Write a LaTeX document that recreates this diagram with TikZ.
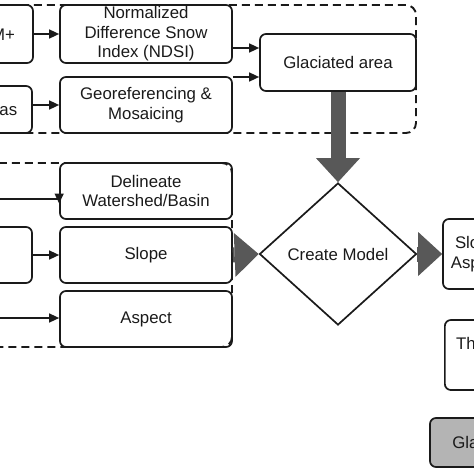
\documentclass[tikz,border=0pt]{standalone}
\usepackage{fontspec}
\setmainfont{Liberation Sans}
\usetikzlibrary{arrows.meta,shapes.geometric}
\definecolor{ink}{HTML}{1A1A1A}
\definecolor{arrgray}{HTML}{585858}
\definecolor{legfill}{HTML}{B4B4B4}
\begin{document}
\begin{tikzpicture}[x=1pt,y=-1pt,
  font=\fontsize{16.8}{19.5}\selectfont, text=ink,
  box/.style={draw=ink, line width=1.7pt, rounded corners=6pt, minimum width=172pt, minimum height=56pt, inner sep=1pt, align=center},
  arr/.style={draw=ink, line width=1.5pt, -{Triangle[width=9pt,length=10pt]}},
  bigarr/.style={draw=arrgray, line width=15pt, -{Triangle[width=44pt,length=24pt,line width=0pt]}},
  frame/.style={draw=ink, line width=1.9pt, dash pattern=on 8pt off 5pt, rounded corners=10pt}]
\useasboundingbox (0,0) rectangle (474,474);
\clip (0,0) rectangle (474,474);
% group frames
\draw[frame] (-30,5) rectangle (416,133);
\draw[frame] (-30,163) rectangle (232,347);
% nodes
\node[box, minimum width=146pt, minimum height=58pt] (src1) at (-40,34) {Landsat ETM+};
\node[box, minimum width=123pt, minimum height=47pt] (src2) at (-29.5,109.5) {Glacier atlas};
\node[box, minimum height=58pt] (ndsi) at (146,34) {Normalized\\Difference Snow\\Index (NDSI)};
\node[box] (geo) at (146,105) {Georeferencing \&\\Mosaicing};
\node[box, minimum width=156pt, minimum height=57pt] (glac) at (338,62.5) {Glaciated area};
\node[draw=ink, line width=1.7pt, diamond, minimum width=157pt, minimum height=142pt, inner sep=0pt] (dia) at (338,254) {Create Model};
\node[box] (del) at (146,191) {Delineate\\Watershed/Basin};
\node[box] (slope) at (146,255) {Slope};
\node[box] (aspect) at (146,319) {Aspect};
\node[box, minimum width=132pt] (dem) at (-34,255) {};
\node[box, minimum width=67pt, minimum height=70pt] (out1) at (476.5,254) {Slope\\Aspect};
\node[box, minimum width=98pt, minimum height=70pt, anchor=west] (out2) at (444,355) {Thickness\\map};
\node[box, fill=legfill, minimum width=154pt, minimum height=49pt] (leg) at (507,442.5) {Glaciated area};
% thin connectors
\draw[arr] (src1.east) -- (ndsi.west);
\draw[arr] (src2.east |- geo.west) -- (geo.west);
\coordinate (g1) at ([yshift=14.5pt]glac.west);
\coordinate (g2) at ([yshift=-14.5pt]glac.west);
\draw[arr] (ndsi.east |- g1) -- (g1);
\draw[arr] (geo.east |- g2) -- (g2);
\coordinate (w1) at (0,199);
\draw[arr] (w1) -- (del.west |- w1) -- ++(0,4.5);
\coordinate (w2) at (0,318);
\draw[arr] (w2) -- (aspect.west |- w2);
\draw[arr] (dem.east) -- (slope.west);
% block arrows
\draw[bigarr] (glac.south) -- (dia.north);
\draw[bigarr] (slope.east) -- (dia.west);
\draw[bigarr] (dia.east) -- (out1.west);
\end{tikzpicture}
\end{document}
